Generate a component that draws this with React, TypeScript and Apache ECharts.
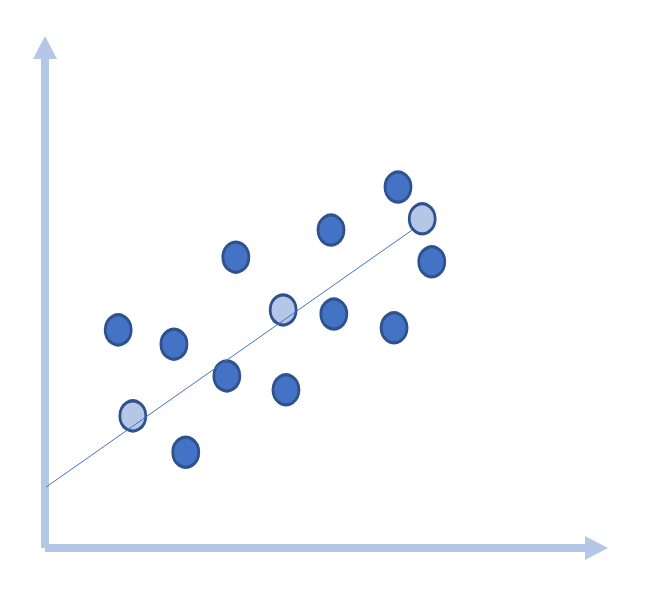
import React, { useEffect, useRef } from "react";
import * as echarts from "echarts";

// Observed points (dark blue)
const darkX = [1.3, 2.29, 3.39, 3.23, 2.5, 4.28, 5.08, 5.13, 6.27, 6.2, 6.87];
const darkY = [4.26, 3.98, 5.68, 3.36, 1.87, 3.09, 6.21, 4.57, 7.05, 4.3, 5.59];
// Highlighted points (light blue)
const lightX = [1.56, 4.23, 6.7];
const lightY = [2.58, 4.65, 6.43];
// Trend line end points
const lineX = [0.02, 6.52];
const lineY = [1.19, 6.21];

const AXIS_COLOR = "#B4C7E7";
const DARK = "#4472C4";
const BORDER = "#2F528F";

export default function App() {
  const ref = useRef<HTMLDivElement>(null);
  useEffect(() => {
    if (!ref.current) return;
    const chart = echarts.init(ref.current, undefined, { renderer: "svg" });
    const zip = (xs: number[], ys: number[]) => xs.map((x, i) => [x, ys[i]]);
    chart.setOption({
      animation: false,
      backgroundColor: "#ffffff",
      grid: { left: 45, right: 63, top: 36, bottom: 51, containLabel: false },
      xAxis: { type: "value", min: 0, max: 10, show: false },
      yAxis: { type: "value", min: 0, max: 10, show: false },
      graphic: [
        { type: "rect", shape: { x: 41, y: 57, width: 8, height: 491 }, style: { fill: AXIS_COLOR }, z: 1 },
        { type: "rect", shape: { x: 45, y: 544, width: 541, height: 8 }, style: { fill: AXIS_COLOR }, z: 1 },
        { type: "polygon", shape: { points: [[45, 36], [57, 59], [33, 59]] }, style: { fill: AXIS_COLOR }, z: 1 },
        { type: "polygon", shape: { points: [[608, 548], [585, 560], [585, 536]] }, style: { fill: AXIS_COLOR }, z: 1 },
      ],
      series: [
        {
          type: "scatter",
          data: zip(darkX, darkY),
          symbol: "circle",
          symbolSize: [26, 30],
          itemStyle: { color: DARK, borderColor: BORDER, borderWidth: 3, opacity: 1 },
          z: 2,
        },
        {
          type: "scatter",
          data: zip(lightX, lightY),
          symbol: "circle",
          symbolSize: [26, 30],
          itemStyle: { color: AXIS_COLOR, borderColor: BORDER, borderWidth: 3, opacity: 1 },
          z: 2,
        },
        {
          type: "line",
          data: zip(lineX, lineY),
          symbol: "none",
          lineStyle: { color: DARK, width: 1 },
          z: 3,
        },
      ],
    });
    return () => chart.dispose();
  }, []);
  return (
    <div
      ref={ref}
      style={{ position: "fixed", left: 0, top: 0, width: 671, height: 599, background: "#fff" }}
    />
  );
}
